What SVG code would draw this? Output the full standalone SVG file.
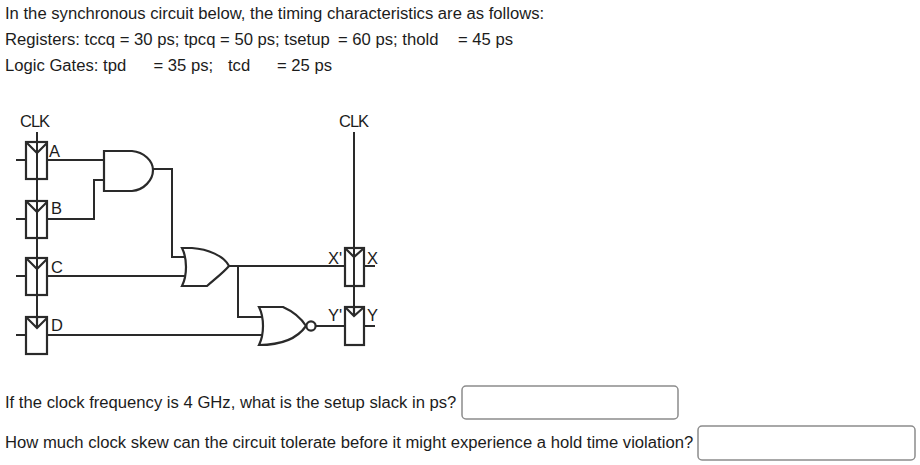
<svg xmlns="http://www.w3.org/2000/svg" width="920" height="465" viewBox="0 0 920 465">
<style>
text{font-family:"Liberation Sans",Arial,sans-serif;fill:#1c1c1c}
.q{font-size:16.65px}
.l{font-size:16.5px}
.c{letter-spacing:-1px}
.w{fill:none;stroke:#2a2a2a;stroke-width:2}
.g,.f{fill:#fff;stroke:#2a2a2a;stroke-width:2.2}
.o{fill:none;stroke:#2a2a2a;stroke-width:2.2}
.b{fill:#fff;stroke:#8c8c8c;stroke-width:1.5}
</style>
<rect width="920" height="465" fill="#fff"/>
<g id="prompt" class="q">
<text x="5" y="18.5">In the synchronous circuit below, the timing characteristics are as follows:</text>
<text y="44.5"><tspan x="5">Registers: tccq = 30 ps; tpcq = 50 ps; tsetup</tspan><tspan x="338">= 60 ps; thold</tspan><tspan x="458">= 45 ps</tspan></text>
<text y="70.5"><tspan x="5">Logic Gates: tpd</tspan><tspan x="153.5">= 35 ps;</tspan><tspan x="228">tcd</tspan><tspan x="277">= 25 ps</tspan></text>
<text x="5" y="407.5">If the clock frequency is 4 GHz, what is the setup slack in ps?</text>
<text x="5" y="447.5">How much clock skew can the circuit tolerate before it might experience a hold time violation?</text>
</g>
<g id="connectors">
<path class="w" d="M37 132V325M354 132V315"/>
<path class="w" d="M16 160H26M16 219H26M16 276H26M16 335H26"/>
<path class="w" d="M47 160H104M47 219H94V180H104M153 169H172V257H185M47 276H185M229 266H345M238 266V317H262M47 335H262M316 326H345M364 266H375M364 326H375"/>
</g>
<g id="reg-A"><rect class="o" x="26" y="142" width="21" height="37"/><path class="o" d="M27 143L37 153L47 143"/><text class="l" x="49" y="157">A</text></g>
<g id="reg-B"><rect class="o" x="26" y="201" width="21" height="37"/><path class="o" d="M27 202L37 212L47 202"/><text class="l" x="51" y="214">B</text></g>
<g id="reg-C"><rect class="o" x="26" y="258" width="21" height="37"/><path class="o" d="M27 259L37 269L47 259"/><text class="l" x="51" y="273">C</text></g>
<g id="reg-D"><rect class="f" x="26" y="317" width="21" height="37"/><path class="o" d="M37 317V327M27 318L37 328L47 318"/><text class="l" x="51" y="331">D</text></g>
<g id="reg-X"><rect class="o" x="345" y="248" width="19" height="38"/><path class="o" d="M346 249L354 257L363 249"/><text class="l" x="328" y="264">X'</text><text class="l" x="367" y="264">X</text></g>
<g id="reg-Y"><rect class="f" x="345" y="307" width="19" height="38"/><path class="o" d="M354 307V316M346 308L354 316L363 308"/><text class="l" x="328" y="321">Y'</text><text class="l" x="367" y="321">Y</text></g>
<g id="and-gate"><path class="g" d="M104 151H132C144 152 153 161 153 170C153 180 144 190 132 191H104Z"/></g>
<g id="or-gate"><path class="g" d="M182 248H192C208 249 224 256 229 266C223 273 216 278 207 286H182C185 280 186 274 186 267C186 260 185 254 182 248Z"/></g>
<g id="nor-gate"><path class="g" d="M259 307H283C292 311 301 318 306 326C299 336 285 345 259 345C262 339 263 333 263 326C263 319 262 313 259 307Z"/><circle class="g" cx="311" cy="326" r="4.6"/></g>
<g id="clock-labels" class="l c"><text x="20" y="127">CLK</text><text x="339" y="127">CLK</text></g>
<g id="answer-boxes"><rect class="b" x="462" y="386" width="216" height="33" rx="4"/><rect class="b" x="698" y="426" width="217" height="34" rx="4"/></g>
</svg>
